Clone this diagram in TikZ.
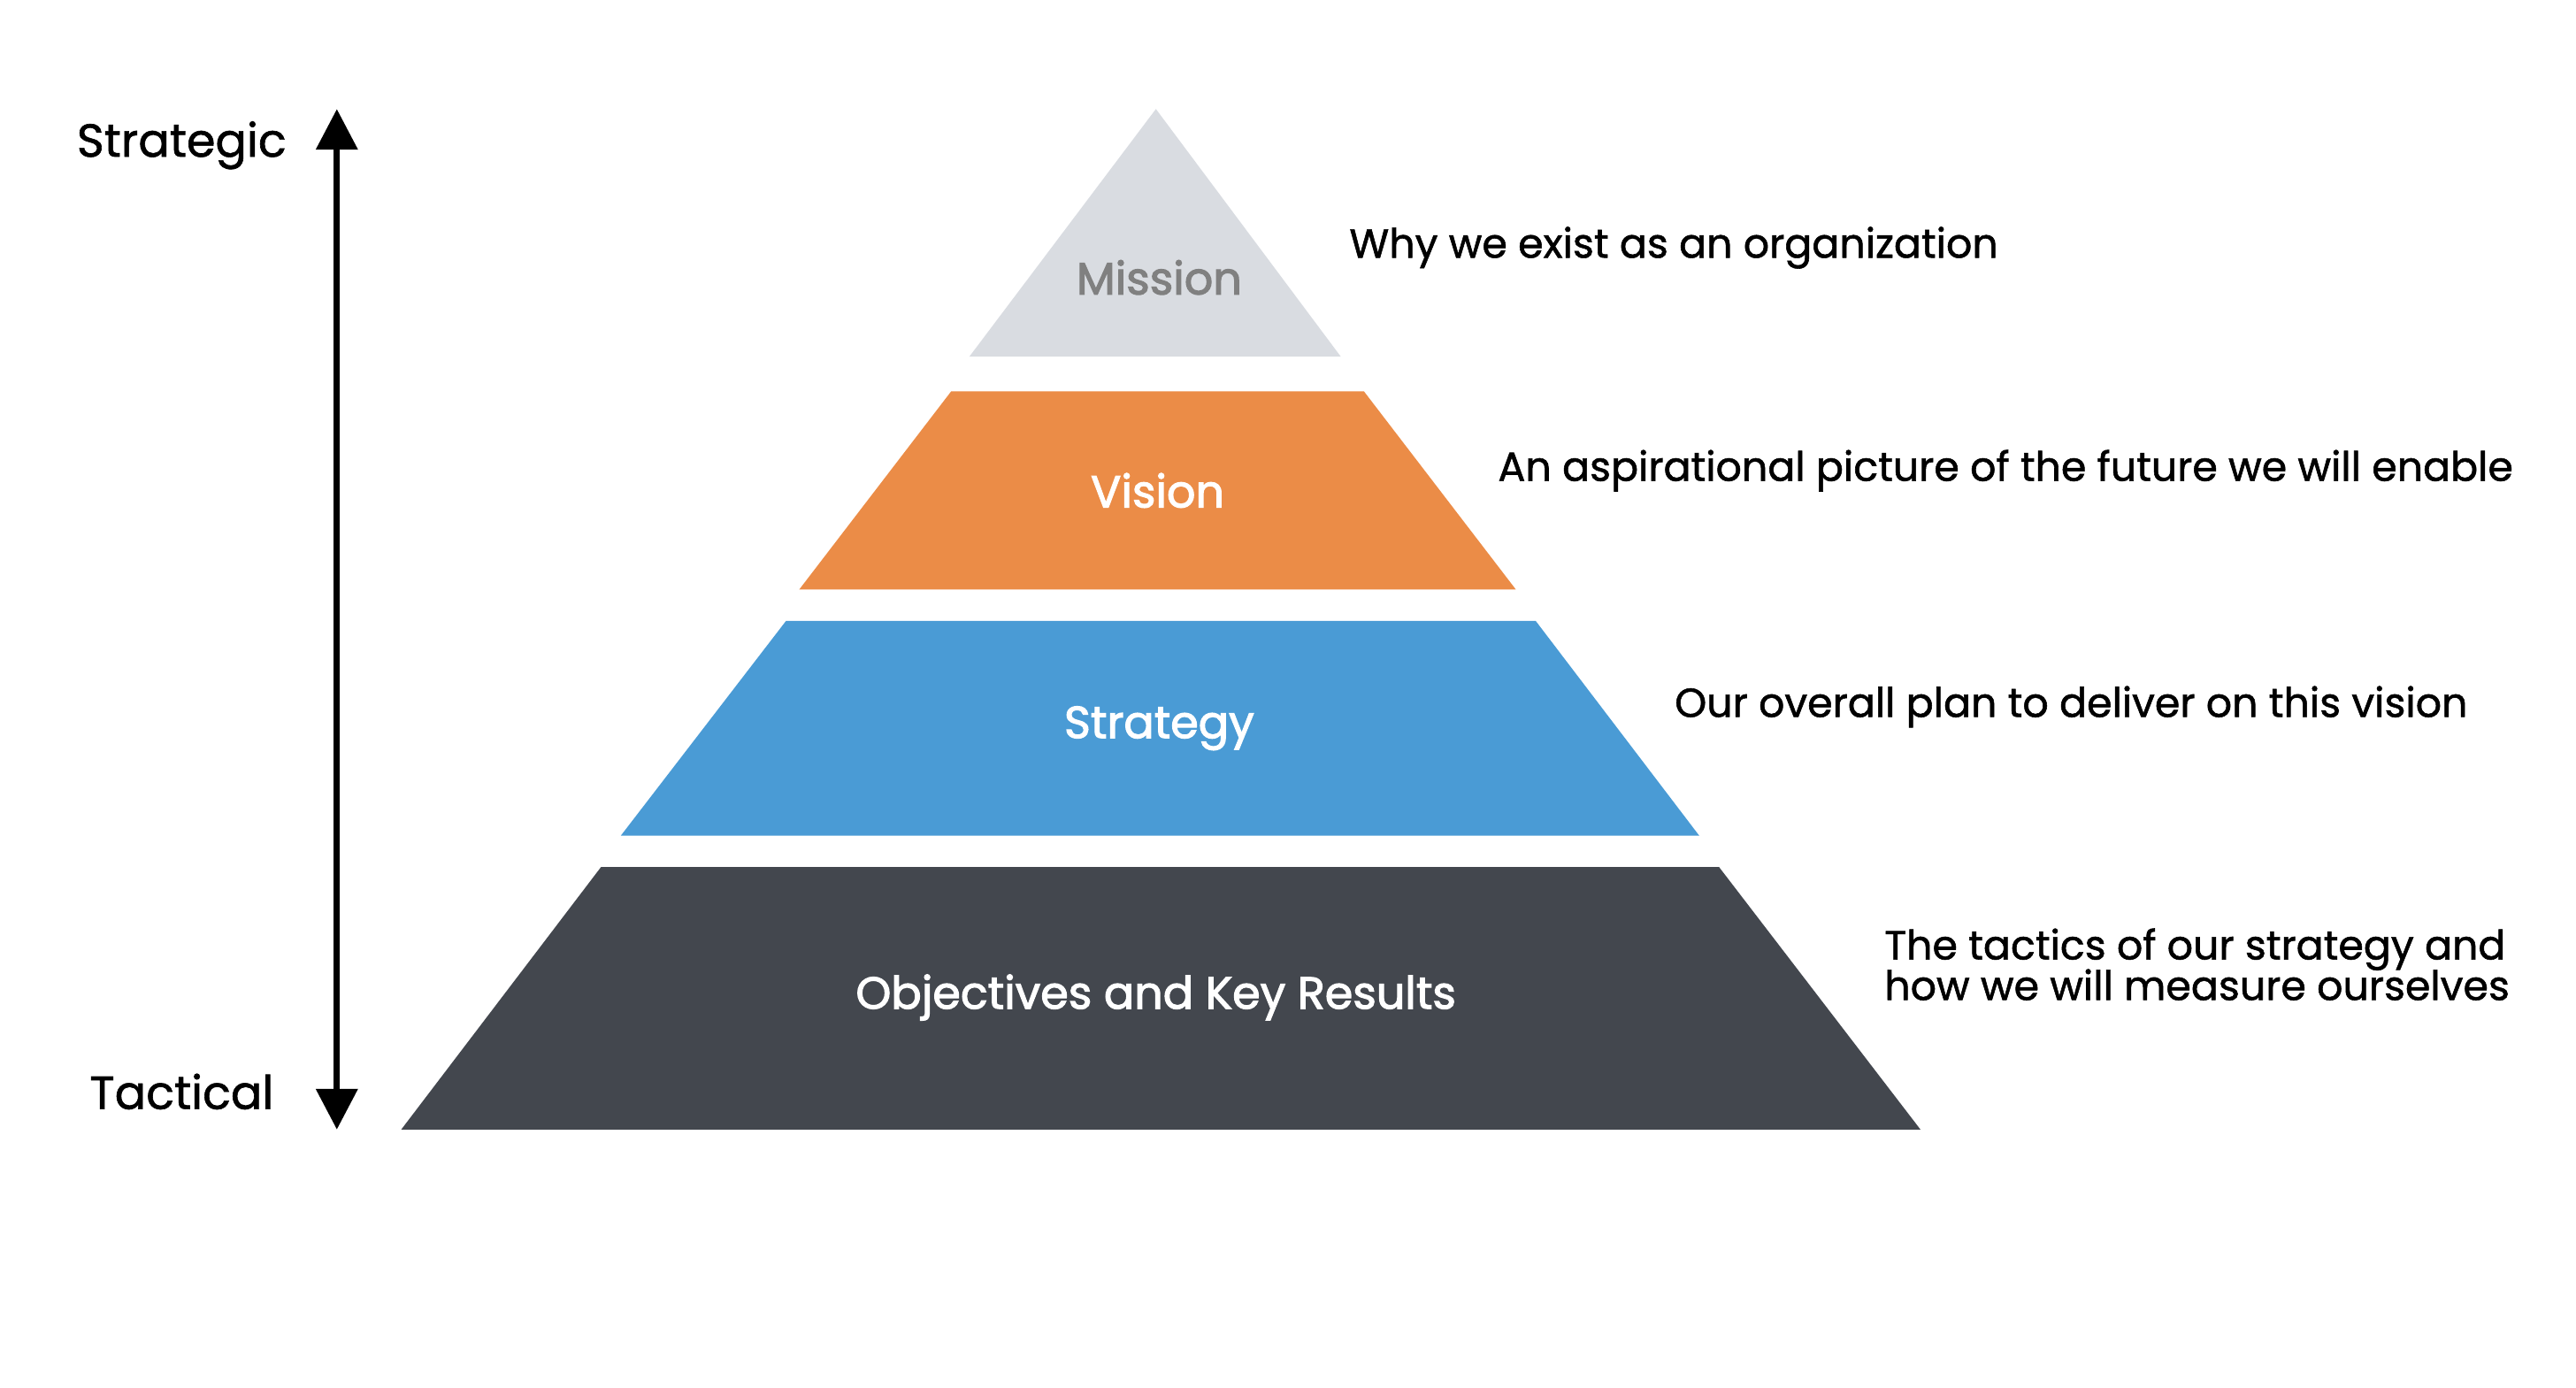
\documentclass[tikz,border=0pt]{standalone}
\usepackage{fontspec}
\setmainfont{Poppins}
\newfontfamily\pmed{Poppins}[FakeBold=1.2]
\newfontfamily\psemi{Poppins}[FakeBold=2.2]
\usetikzlibrary{arrows.meta}
\definecolor{missiongray}{HTML}{D9DCE1}
\definecolor{visionorange}{HTML}{EB8C47}
\definecolor{strategyblue}{HTML}{4A9BD5}
\definecolor{okrdark}{HTML}{43474E}
\tikzset{
  inlabel/.style={font=\psemi\fontsize{15.5}{19}\selectfont, text=white},
  sidelabel/.style={font=\pmed\fontsize{14}{17}\selectfont, anchor=west, align=left},
  endlabel/.style={font=\pmed\fontsize{16}{19}\selectfont},
}
\begin{document}
\begin{tikzpicture}[x=0.02cm, y=-0.02cm]
				\useasboundingbox (0,0) rectangle (1560,840);

				% pyramid levels
				\fill[missiongray] (700,66) -- (812,216) -- (587,216) -- cycle;
				\node[inlabel, text=gray] (mission) at (702,168) {Mission};

				\fill[visionorange] (576,237) -- (826,237) -- (918,357) -- (484,357) -- cycle;
				\node[inlabel] (vision) at (701,297) {Vision};

				\fill[strategyblue] (476,376) -- (930,376) -- (1029,506) -- (376,506) -- cycle;
				\node[inlabel] (strategy) at (702,441) {Strategy};

				\fill[okrdark] (364,525) -- (1041,525) -- (1163,684) -- (243,684) -- cycle;
				\node[inlabel] (okr) at (700,604) {Objectives and Key Results};

				% descriptions
				\node[sidelabel] (missiontxt) at (811,150) {Why we exist as an organization};
				\node[sidelabel] (visiontxt) at (901,285) {An aspirational picture of the future we will enable};
				\node[sidelabel] (strategytxt) at (1008,428) {Our overall plan to deliver on this vision};
				\node[sidelabel] (okrtxt) at (1135,584) {The tactics of our strategy and\\[-3pt]how we will measure ourselves};

				% scale
				\node[endlabel] (strategic) at (110,88) {Strategic};
				\node[endlabel] (tactical) at (110,661) {Tactical};
				\coordinate (top) at (204,66);
				\coordinate (bottom) at (204,684);
				\draw[line width=2.2pt, {Triangle[length=14pt,width=14pt]}-{Triangle[length=14pt,width=14pt]}] (top) -- (bottom);
\end{tikzpicture}
\end{document}
